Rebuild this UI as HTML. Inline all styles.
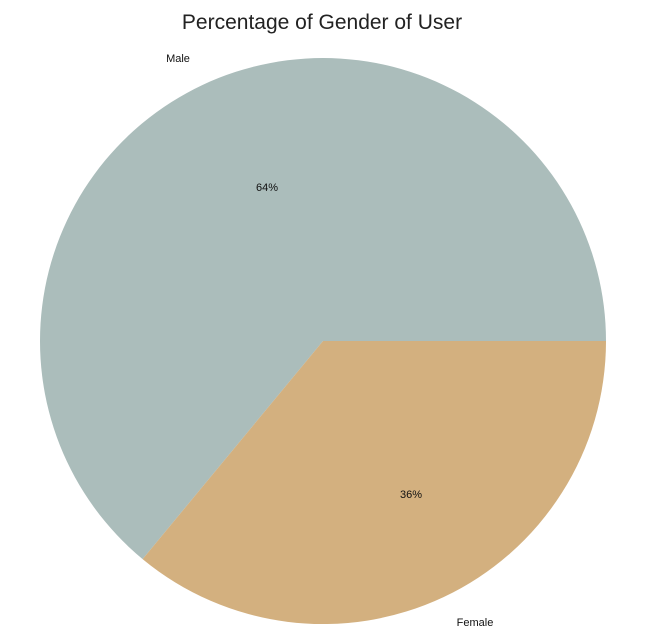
<!DOCTYPE html>
<html><head><meta charset="utf-8"><style>
html,body{margin:0;padding:0;background:#fff;}
svg{display:block;}
</style></head><body>
<svg width="652" height="631" viewBox="0 0 652 631" xmlns="http://www.w3.org/2000/svg">
<rect width="652" height="631" fill="#fff"/>
<text x="322" y="29" text-anchor="middle" font-family="Liberation Sans, sans-serif" font-size="21" fill="#222">Percentage of Gender of User</text>
<path d="M323,341 L606,341 A283,283 0 1 0 142.6,559.1 Z" fill="#abbdbb"/>
<path d="M323,341 L142.6,559.1 A283,283 0 0 0 606,341 Z" fill="#d3b07f"/>
<g font-family="Liberation Sans, sans-serif" font-size="11" fill="#111" text-anchor="middle">
<text x="178" y="62">Male</text>
<text x="267" y="191">64%</text>
<text x="411" y="498">36%</text>
<text x="475" y="626">Female</text>
</g>
</svg>
</body></html>
